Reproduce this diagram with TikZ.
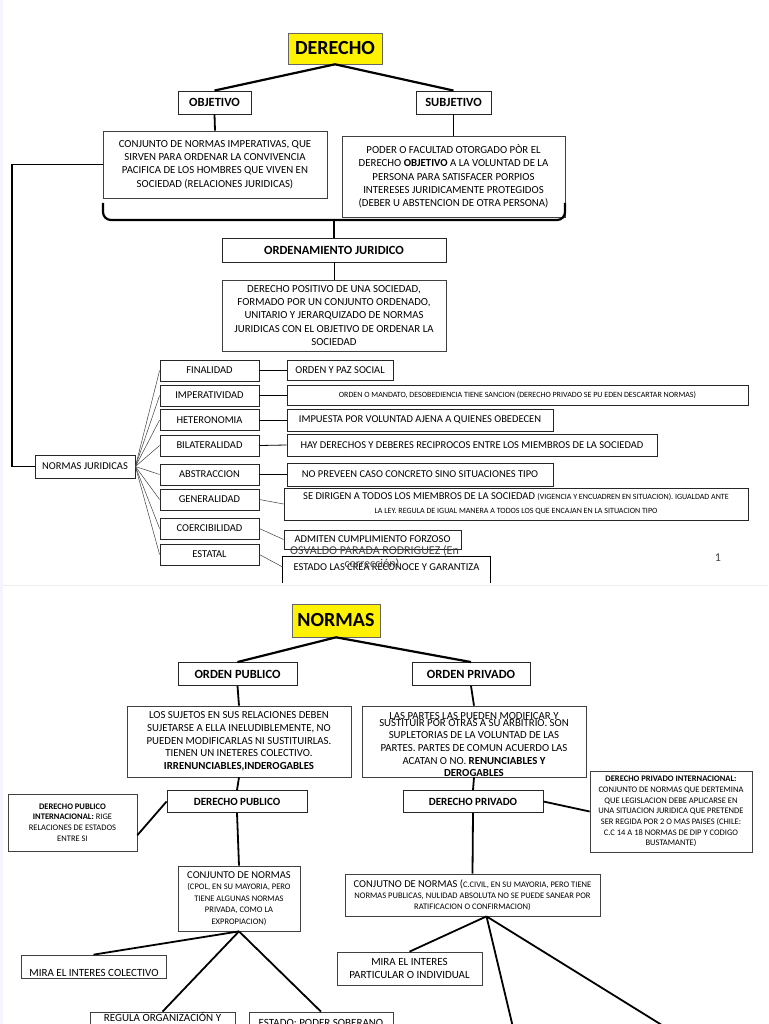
\documentclass[tikz,border=0pt]{standalone}
\usepackage{fontspec}
\setmainfont{Carlito}
\usetikzlibrary{calc}
\begin{document}
\begin{tikzpicture}[x=1pt, y=-1pt,
    title/.style={draw=black!60, line width=0.6pt, fill=yellow, inner sep=0pt, font=\fontsize{20}{22}\selectfont\bfseries},
    head/.style={draw=black!85, line width=0.9pt, fill=white, inner sep=0pt, font=\fontsize{12.5}{14}\selectfont\bfseries},
    desc/.style={draw=black!75, line width=0.7pt, fill=white, inner sep=0pt, align=center, font=\fontsize{10.8}{13.3}\selectfont},
    prop/.style={draw=black!85, line width=0.8pt, fill=white, inner sep=0pt, minimum width=99, minimum height=21, font=\fontsize{10.5}{12}\selectfont},
    fact/.style={draw=black!85, line width=0.8pt, fill=white, inner sep=0pt, align=center, font=\fontsize{10.5}{14}\selectfont},
    note/.style={desc, font=\fontsize{8.5}{10.7}\selectfont},
    plain/.style={inner sep=0pt, align=center, font=\fontsize{10.8}{12.7}\selectfont},
    footer/.style={inner sep=0pt, text=black!75, font=\fontsize{12}{14}\selectfont},
    smalltext/.style={font=\fontsize{8}{10}\selectfont},
    bigline/.style={line width=2.2pt},
    midline/.style={line width=1.8pt},
    fanline/.style={line width=0.5pt, black!75},
    linkline/.style={line width=0.8pt}]
    % Page
    \useasboundingbox (0,0) rectangle (768,1024);
    \fill[white] (0,0) rectangle (768,1024);
    \fill[blue!4] (0,0) rectangle (3,1024);
    \draw[black!7] (3,585) -- (768,585);

    % DERECHO
    \node[title, minimum width=94, minimum height=31] (derecho) at (335,48.5) {DERECHO};
    \node[head, minimum width=73, minimum height=23] (objetivo) at (214.5,102.5) {OBJETIVO};
    \node[head, minimum width=75, minimum height=23] (subjetivo) at (453.5,102.5) {SUBJETIVO};
    \draw[bigline] (derecho.south) -- (objetivo.north);
    \draw[bigline] (derecho.south) -- (subjetivo.north);
    \node[desc, minimum width=224, minimum height=67] (objdesc) at (215,164.5)
        {CONJUNTO DE NORMAS IMPERATIVAS, QUE\\SIRVEN PARA ORDENAR LA CONVIVENCIA\\PACIFICA DE LOS HOMBRES QUE VIVEN EN\\SOCIEDAD (RELACIONES JURIDICAS)};
    \node[desc, minimum width=223, minimum height=81] (subjdesc) at (453.5,176.5)
        {PODER O FACULTAD OTORGADO PÒR EL\\DERECHO \textbf{OBJETIVO} A LA VOLUNTAD DE LA\\PERSONA PARA SATISFACER PORPIOS\\INTERESES JURIDICAMENTE PROTEGIDOS\\(DEBER U ABSTENCION DE OTRA  PERSONA)};
    \draw[midline] (objetivo.south) -- (objdesc.north);
    \draw[midline] (subjetivo.south) -- (subjdesc.north);

    % Brace
    \coordinate (braceL) at (103,203);
    \coordinate (braceR) at (565,203);
    \coordinate (braceM) at (334,220);
    \draw[bigline, rounded corners=8] (braceL) -- (103,220) -- (565,220) -- (braceR);
    \node[head, font=\fontsize{12.5}{14}\selectfont\bfseries, minimum width=224, minimum height=24] (ordenamiento) at (334,250) {ORDENAMIENTO JURIDICO};
    \draw[bigline] (braceM) -- (ordenamiento.north);
    \node[desc, minimum width=224, minimum height=71] (orddesc) at (334,315.5)
        {DERECHO POSITIVO DE UNA SOCIEDAD,\\FORMADO POR UN  CONJUNTO ORDENADO,\\UNITARIO Y JERARQUIZADO DE NORMAS\\JURIDICAS CON EL OBJETIVO DE  ORDENAR LA\\SOCIEDAD};
    \draw[linkline] (ordenamiento.south) -- (orddesc.north);

    % Normas juridicas
    \node[prop, minimum width=100, minimum height=23] (normasjur) at (85,466.5) {NORMAS JURIDICAS};
    \draw[midline] (objdesc.west) -- ++(-91,0) |- (normasjur.west);
    \node[prop] (finalidad)   at (209.5,370.5) {FINALIDAD};
    \node[prop] (imperativ)   at (209.5,395.5) {IMPERATIVIDAD};
    \node[prop] (heteronom)   at (209.5,420)   {HETERONOMIA};
    \node[prop] (bilateral)   at (209.5,445.5) {BILATERALIDAD};
    \node[prop] (abstracc)    at (209.5,474.5) {ABSTRACCION};
    \node[prop] (generalid)   at (209.5,499.5) {GENERALIDAD};
    \node[prop] (coercibil)   at (209.5,528.5) {COERCIBILIDAD};
    \node[prop] (estatal)     at (209.5,554.5) {ESTATAL};
    \draw[fanline] (normasjur.east) -- (finalidad.west);
    \draw[fanline] (normasjur.east) -- (imperativ.west);
    \draw[fanline] (normasjur.east) -- (heteronom.west);
    \draw[fanline] (normasjur.east) -- (bilateral.west);
    \draw[fanline] (normasjur.east) -- (abstracc.west);
    \draw[fanline] (normasjur.east) -- (generalid.west);
    \draw[fanline] (normasjur.east) -- (coercibil.west);
    \draw[fanline] (normasjur.east) -- (estatal.west);

    % Caracteristicas
    \node[fact, minimum width=106, minimum height=20] (finr) at (340,370.5) {ORDEN Y PAZ SOCIAL};
    \node[fact, smalltext, minimum width=461, minimum height=20] (impr) at (517.5,395.5) {ORDEN O MANDATO, DESOBEDIENCIA TIENE SANCION (DERECHO PRIVADO SE PU EDEN DESCARTAR NORMAS)};
    \node[fact, minimum width=266, minimum height=22] (hetr) at (420,420) {IMPUESTA POR VOLUNTAD AJENA A  QUIENES OBEDECEN};
    \node[fact, minimum width=370, minimum height=22] (bilr) at (472,445) {HAY DERECHOS Y DEBERES RECIPROCOS ENTRE LOS MIEMBROS DE LA SOCIEDAD};
    \node[fact, minimum width=266, minimum height=23] (absr) at (420,474.5) {NO PREVEEN CASO CONCRETO SINO SITUACIONES TIPO};
    \node[fact, minimum width=464, minimum height=32] (genr) at (516,504)
        {SE DIRIGEN A TODOS LOS MIEMBROS DE LA SOCIEDAD {\fontsize{8}{10}\selectfont (VIGENCIA Y ENCUADREN EN SITUACION). IGUALDAD ANTE}\\{\fontsize{8}{10}\selectfont LA LEY. REGULA DE IGUAL MANERA A  TODOS LOS QUE ENCAJAN EN LA SITUACION TIPO}};
    \node[fact, minimum width=177, minimum height=19] (coer) at (372.5,539.5) {ADMITEN CUMPLIMIENTO FORZOSO};
    \node[fact, draw=none, minimum width=207, minimum height=20] (estr) at (386.5,567) {ESTADO LAS CREA RECONOCE Y GARANTIZA};
    \draw[linkline] (estr.west) -- (estr.north west) -- (estr.north east) -- (estr.east) -- ++(0,16);
    \draw[linkline] (estr.west) -- ++(0,16);
    \draw[linkline] (finalidad.east) -- (finr.west);
    \draw[linkline] (imperativ.east) -- (impr.west);
    \draw[linkline] (heteronom.east) -- (hetr.west);
    \draw[linkline] (bilateral.east) -- (bilr.west);
    \draw[linkline] (abstracc.east) -- (absr.west);
    \draw[fanline] (generalid.east) -- (genr.west);
    \draw[fanline] (coercibil.east) -- (coer.west);
    \draw[fanline] (estatal.east) -- (estr.west);

    % Footer
    \node[footer, anchor=west] (autor) at (290,551) {OSVALDO PARADA RODRIGUEZ (En};
    \node[footer] (correccion) at (372,564) {corrección)};
    \node[footer] (pagina) at (718,558) {1};

    % NORMAS
    \node[title, minimum width=88, minimum height=33] (normas) at (336,620.5) {NORMAS};
    \node[head, minimum width=119, minimum height=23] (opublico) at (237.5,674) {ORDEN PUBLICO};
    \node[head, minimum width=118, minimum height=23] (oprivado) at (471,674) {ORDEN PRIVADO};
    \draw[bigline] (normas.south) -- (opublico.north);
    \draw[bigline] (normas.south) -- (oprivado.north);
    \node[desc, font=\fontsize{10.8}{12.7}\selectfont, minimum width=224, minimum height=71] (pubdesc) at (239,741.5)
        {LOS SUJETOS EN SUS RELACIONES DEBEN\\SUJETARSE A ELLA INELUDIBLEMENTE, NO\\PUEDEN MODIFICARLAS NI SUSTITUIRLAS.\\TIENEN UN INETERES COLECTIVO.\\\textbf{IRRENUNCIABLES,INDEROGABLES}};
    \node[desc, minimum width=224, minimum height=71] (privdesc) at (474,741.5) {};
    \node[plain] (privtext) at (474,748)
        {SUSTITUIR POR OTRAS A SU ARBITRIO. SON\\SUPLETORIAS DE LA VOLUNTAD DE LAS\\PARTES. PARTES DE COMUN ACUERDO LAS\\ACATAN O NO. \textbf{RENUNCIABLES Y}\\\textbf{DEROGABLES}};
    \node[plain] (privover) at (474,716.5) {LAS PARTES LAS PUEDEN MODIFICAR Y};
    \draw[midline] (opublico.south) -- (pubdesc.north);
    \draw[midline] (oprivado.south) -- (privdesc.north);

    % Derecho publico / privado
    \node[head, font=\fontsize{11}{13}\selectfont\bfseries, minimum width=140, minimum height=22] (dpublico) at (237,801.5) {DERECHO PUBLICO};
    \node[head, font=\fontsize{11}{13}\selectfont\bfseries, minimum width=140, minimum height=22] (dprivado) at (473,801.5) {DERECHO PRIVADO};
    \draw[midline] (pubdesc.south) -- (dpublico.north);
    \draw[midline] (privdesc.south) -- (dprivado.north);
    \node[note, minimum width=129, minimum height=57] (dpinter) at (72.5,822.5)
        {\textbf{DERECHO PUBLICO}\\\textbf{INTERNACIONAL:} RIGE\\RELACIONES DE ESTADOS\\ENTRE SI};
    \node[note, minimum width=162, minimum height=81] (dprinter) at (671,811.5)
        {\textbf{DERECHO PRIVADO INTERNACIONAL:}\\CONJUNTO DE NORMAS QUE DERTEMINA\\QUE LEGISLACION DEBE APLICARSE EN\\UNA SITUACION JURIDICA QUE PRETENDE\\SER REGIDA POR 2 O MAS PAISES (CHILE:\\C.C 14 A 18 NORMAS DE DIP Y CODIGO\\BUSTAMANTE)};
    \draw[midline] (dpublico.west) -- ($(dpinter.north east)!0.72!(dpinter.south east)$);
    \draw[midline] (dprivado.east) -- (dprinter.west);

    % Conjuntos de normas
    \node[note, font=\fontsize{8.5}{11.5}\selectfont, minimum width=122, minimum height=65] (conjpub) at (239,898.5)
        {{\fontsize{10.5}{12}\selectfont CONJUNTO DE NORMAS}\\(CPOL, EN SU MAYORIA, PERO\\TIENE ALGUNAS NORMAS\\PRIVADA, COMO LA\\EXPROPIACION)};
    \node[note, font=\fontsize{8.5}{11}\selectfont, minimum width=255, minimum height=42] (conjpriv) at (472.5,895)
        {{\fontsize{10.5}{12}\selectfont CONJUTNO DE NORMAS (}C.CIVIL, EN SU MAYORIA, PERO TIENE\\NORMAS PUBLICAS, NULIDAD ABSOLUTA NO SE PUEDE SANEAR POR\\RATIFICACION O CONFIRMACION)};
    \draw[midline] (dpublico.south) -- (conjpub.north);
    \draw[midline] (dprivado.south) -- (conjpriv.north);

    % Ramas
    \node[desc, minimum width=145, minimum height=23] (miracol) at (93.5,966.5) {};
    \node[plain, font=\fontsize{11}{13}\selectfont] (miracoltext) at (94,972.5) {MIRA EL INTERES COLECTIVO};
    \node[desc, minimum width=145, minimum height=36] (regula) at (162.5,1030) {};
    \node[plain, font=\fontsize{11}{13}\selectfont] (regulatext) at (162.5,1017) {REGULA ORGANIZACIÓN Y};
    \node[desc, minimum width=144, minimum height=36] (estado) at (321,1030) {};
    \node[plain, font=\fontsize{11}{13}\selectfont] (estadotext) at (321,1023) {ESTADO: PODER SOBERANO};
    \node[desc, font=\fontsize{11}{12.5}\selectfont, minimum width=145, minimum height=33] (mirapart) at (409.5,968.5)
        {MIRA EL INTERES\\PARTICULAR O INDIVIDUAL};
    \draw[midline] (conjpub.south) -- (miracol.north);
    \draw[midline] (conjpub.south) -- (regula.north);
    \draw[midline] (conjpub.south) -- (estado.north);
    \coordinate (cpbot) at ($(conjpriv.south)+(14,0)$);
    \coordinate (privend1) at (516,1040);
    \coordinate (privend2) at (686,1040);
    \draw[midline] (cpbot) -- (mirapart.north);
    \draw[midline] (cpbot) -- (privend1);
    \draw[midline] (cpbot) -- (privend2);
\end{tikzpicture}
\end{document}
